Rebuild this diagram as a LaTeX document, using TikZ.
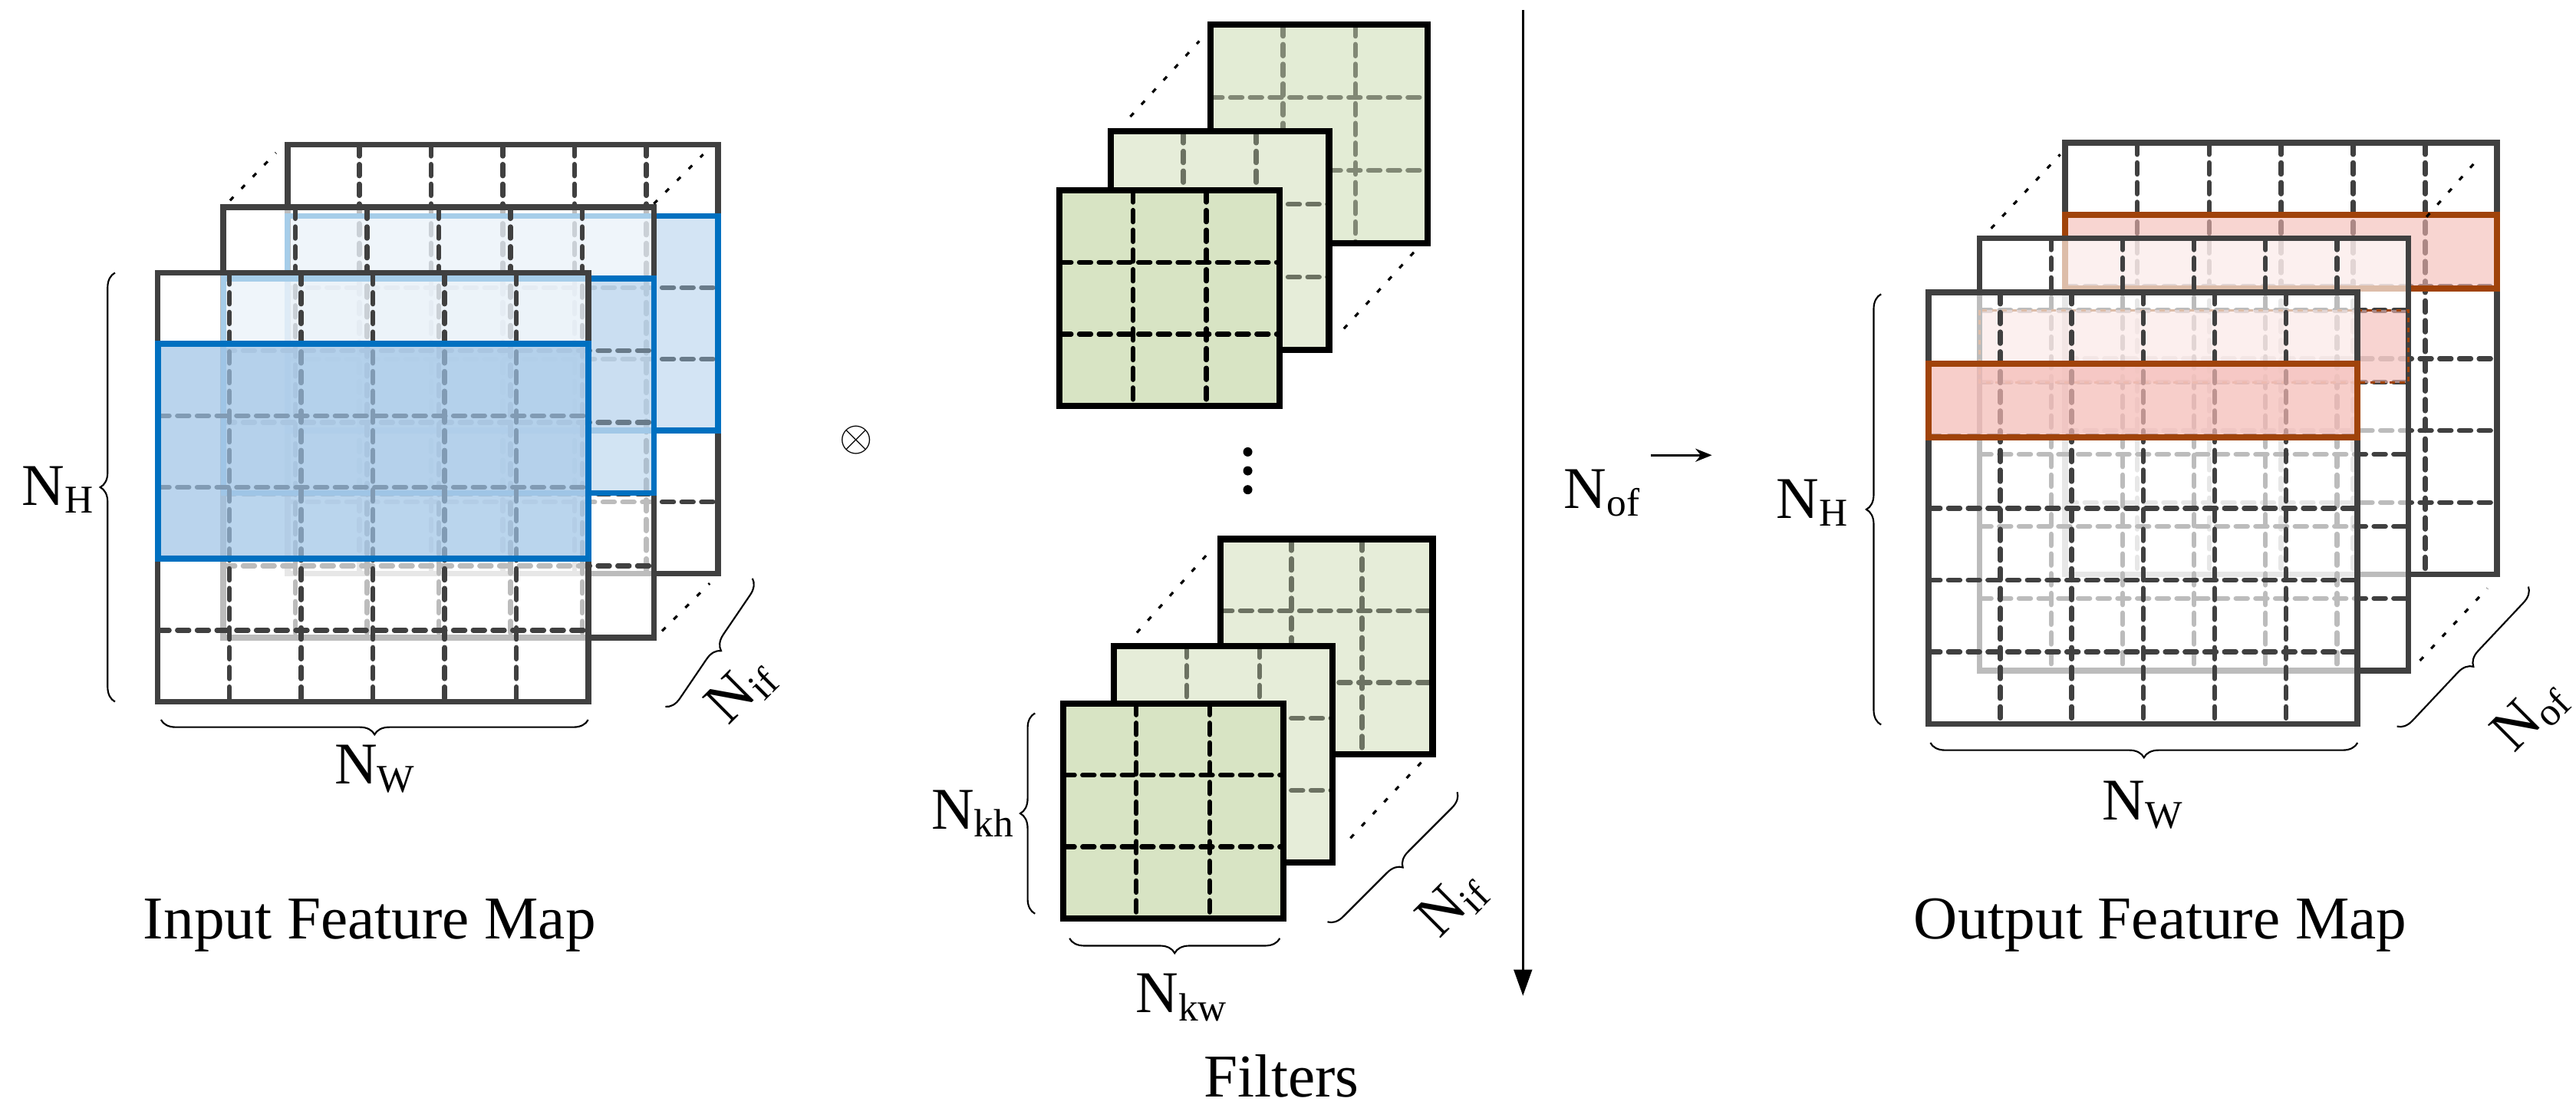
\documentclass[tikz,border=0pt]{standalone}
\usepackage{fontspec}
\setmainfont{Liberation Serif}
\usetikzlibrary{decorations.pathreplacing,arrows.meta}
\definecolor{dgray}{RGB}{64,64,64}
\definecolor{bandblue}{RGB}{0,112,192}
\definecolor{lblue}{RGB}{157,195,230}
\definecolor{bandor}{RGB}{160,67,10}
\definecolor{lpink}{RGB}{244,185,180}
\definecolor{lgreen}{RGB}{216,228,196}
\newcommand\Ns[2]{N\raisebox{-0.3ex}{\fontsize{#1}{#1}\selectfont #2}}
\newcommand\gridlayer[6]{% x0 y0 x1 y1 n-1 color
  \fill[white,fill opacity=0.65] (#1,#2) rectangle (#3,#4);
  \foreach \i in {1,...,#5}{
    \draw[gridl,#6] ({#1+(#3-#1)*\i/(#5+1)},#2) -- ({#1+(#3-#1)*\i/(#5+1)},#4);
    \draw[gridl,#6] (#1,{#2+(#4-#2)*\i/(#5+1)}) -- (#3,{#2+(#4-#2)*\i/(#5+1)});
  }}
\newcommand\edots[4]{\draw[line width=1.5pt,dash pattern=on 3pt off 7pt] (#1,#2) -- (#3,#4);}
\tikzset{
  gridl/.style={line width=3pt,dash pattern=on 7pt off 5pt,line cap=round},
  border/.style={line width=3.6pt,draw=dgray},
  fborder/.style={line width=3.8pt,draw=black},
  brc/.style={decorate,decoration={brace,amplitude=9pt},line width=1pt},
  lab/.style={font=\fontsize{36}{40}\selectfont,inner sep=0pt},
  ttl/.style={font=\fontsize{37}{42}\selectfont,inner sep=0pt}
}
\begin{document}
\begin{tikzpicture}[x=1pt,y=-1pt]
\useasboundingbox (0,0) rectangle (1568,680);
% ===== Input feature map =====
\gridlayer{175}{88}{437}{349}{5}{dgray}
\fill[lblue,fill opacity=0.45] (175,131.5) rectangle (437,262);
\draw[border] (175,88) rectangle (437,349);
\draw[line width=3.4pt,bandblue] (175,131.5) rectangle (437,262);
\gridlayer{136}{126}{398}{388}{5}{dgray}
\fill[lblue,fill opacity=0.45] (136,169.5) rectangle (398,300);
\draw[border] (136,126) rectangle (398,388);
\draw[line width=3.4pt,bandblue] (136,169.5) rectangle (398,300);
\gridlayer{96}{166}{358}{427}{5}{dgray}
\fill[lblue,fill opacity=0.7] (96,209) rectangle (358,340);
\draw[border] (96,166) rectangle (358,427);
\draw[line width=3.8pt,bandblue] (96,209) rectangle (358,340);
\edots{140}{122}{168}{93}
\edots{398}{124}{428}{94}
\edots{403}{384}{432}{355}
\draw[brc] (70,427) -- (70,166);
\node[lab] (inH) at (35,298) {\Ns{24}{H}};
\draw[brc] (358,438) -- (98,438);
\node[lab] (inW) at (228,468) {\Ns{24}{W}};
\draw[brc] (458,352) -- (405,430);
\node[lab,rotate=45] (inIF) at (451,421) {\Ns{24}{if}};
\node[ttl] (inT) at (225,563) {Input Feature Map};
% ===== convolution sign =====
\node[inner sep=0pt,scale=2.6] (conv) at (521,268) {$\otimes$};
% ===== Filters top =====
\fill[lgreen,fill opacity=0.7] (737,15) rectangle (869,148);
\gridlayer{737}{15}{869}{148}{2}{black}
\fill[lgreen,fill opacity=0.6] (737,15) rectangle (869,148);
\draw[fborder] (737,15) rectangle (869,148);
\fill[white] (676,80) rectangle (809,213);
\fill[lgreen,fill opacity=0.7] (676,80) rectangle (809,213);
\gridlayer{676}{80}{809}{213}{2}{black}
\fill[lgreen,fill opacity=0.5] (676,80) rectangle (809,213);
\draw[fborder] (676,80) rectangle (809,213);
\fill[lgreen] (645,116) rectangle (779,247);
\foreach \i in {1,2}{
  \draw[gridl,black] ({645+134*\i/3},116) -- ({645+134*\i/3},247);
  \draw[gridl,black] (645,{116+131*\i/3}) -- (779,{116+131*\i/3});}
\draw[fborder] (645,116) rectangle (779,247);
\edots{688}{71}{730}{25}
\edots{818}{200}{862}{152}
\fill (759.5,275) circle (2.8pt) (759.5,286.5) circle (2.8pt) (759.5,298) circle (2.8pt);
% ===== Filters bottom =====
\fill[white] (743,328) rectangle (872,459);
\fill[lgreen,fill opacity=0.7] (743,328) rectangle (872,459);
\gridlayer{743}{328}{872}{459}{2}{black}
\fill[lgreen,fill opacity=0.5] (743,328) rectangle (872,459);
\draw[fborder] (743,328) rectangle (872,459);
\fill[white] (678,393) rectangle (811,525);
\fill[lgreen,fill opacity=0.7] (678,393) rectangle (811,525);
\gridlayer{678}{393}{811}{525}{2}{black}
\fill[lgreen,fill opacity=0.5] (678,393) rectangle (811,525);
\draw[fborder] (678,393) rectangle (811,525);
\fill[lgreen] (647,428) rectangle (781,559);
\foreach \i in {1,2}{
  \draw[gridl,black] ({647+134*\i/3},428) -- ({647+134*\i/3},559);
  \draw[gridl,black] (647,{428+131*\i/3}) -- (781,{428+131*\i/3});}
\draw[fborder] (647,428) rectangle (781,559);
\edots{692}{385}{736}{336}
\edots{822}{510}{866}{463}
\draw[brc] (630,556) -- (630,434);
\node[lab] (kh) at (592,495) {\Ns{24}{kh}};
\draw[brc] (779,571) -- (651,571);
\node[lab] (kw) at (719,607) {\Ns{24}{kw}};
\draw[brc] (887,482) -- (808,561);
\node[lab,rotate=45] (fIF) at (884,551) {\Ns{24}{if}};
\node[ttl] (fT) at (780,655) {Filters};
% ===== Nof arrow =====
\coordinate (aTop) at (927,6);
\coordinate (aBot) at (927,606);
\draw[line width=1.5pt,-{Triangle[length=16pt,width=11pt]}] (aTop) -- (aBot);
\node[lab] (nof) at (975,300) {\Ns{24}{of}};
\coordinate (sa) at (1005,277);
\coordinate (sb) at (1042,277);
\draw[line width=1.3pt,-{Stealth[length=10pt,width=8pt]}] (sa) -- (sb);
% ===== Output feature map =====
\gridlayer{1257}{87}{1520}{349.5}{5}{dgray}
\fill[lpink,fill opacity=0.6] (1257,130.6) rectangle (1520,175.5);
\draw[border] (1257,87) rectangle (1520,349.5);
\draw[line width=3.8pt,bandor] (1257,130.6) rectangle (1520,175.5);
\gridlayer{1205}{145}{1466}{408}{5}{dgray}
\fill[lpink,fill opacity=0.6] (1205,188.7) rectangle (1466,233);
\draw[border] (1205,145) rectangle (1466,408);
\draw[line width=1.4pt,bandor,dashed] (1205,188.7) rectangle (1466,233);
\gridlayer{1174}{178}{1435}{440.5}{5}{dgray}
\fill[lpink,fill opacity=0.7] (1174,221.5) rectangle (1435,266);
\draw[border] (1174,178) rectangle (1435,440.5);
\draw[line width=3.8pt,bandor] (1174,221.5) rectangle (1435,266);
\edots{1212}{139}{1254}{94}
\edots{1477}{132}{1509}{96}
\edots{1473}{402}{1514}{358}
\draw[brc] (1145,441) -- (1145,179);
\node[lab] (oH) at (1103,306) {\Ns{24}{H}};
\draw[brc] (1435,452) -- (1175,452);
\node[lab] (oW) at (1304,490) {\Ns{24}{W}};
\draw[brc] (1539,357) -- (1459,442);
\node[lab,rotate=45] (oOF) at (1540,436) {\Ns{24}{of}};
\node[ttl] (oT) at (1315,563) {Output Feature Map};
\end{tikzpicture}
\end{document}
